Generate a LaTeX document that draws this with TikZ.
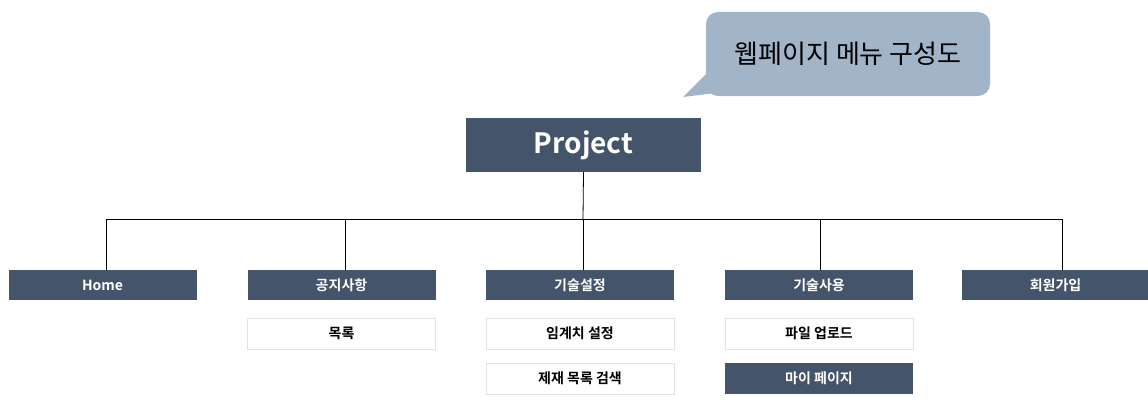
\documentclass[tikz,border=0pt]{standalone}
\usepackage{fontspec}
\setmainfont{Noto Sans CJK KR}
\newfontfamily\kb{Noto Sans CJK KR Bold}
\usetikzlibrary{positioning}
\definecolor{dk}{HTML}{44546A}
\definecolor{cl}{HTML}{A2B4C8}
\definecolor{bd}{HTML}{E2E2E2}
\begin{document}
\begin{tikzpicture}[x=1pt,y=-1pt,
 lvl/.style={fill=dk,text=white,minimum width=188pt,minimum height=30pt,inner sep=0pt,font=\kb\fontsize{14}{14}\selectfont},
 sub/.style={fill=white,draw=bd,line width=0.8pt,minimum width=188pt,minimum height=31pt,inner sep=0pt,font=\kb\fontsize{14}{14}\selectfont},
 ln/.style={line width=0.8pt,black}]
\useasboundingbox (0,0) rectangle (1148,412);
% callout
\fill[cl,rounded corners=12pt] (706,12) rectangle (990,96);
\fill[cl] (712,68) -- (683,97) -- (740,90) -- cycle;
\node (title) at (848,54) {\fontsize{26}{26}\selectfont 웹페이지 메뉴 구성도};
\node[fill=dk,text=white,minimum width=235pt,minimum height=54pt,inner sep=0pt,font=\kb\fontsize{28}{28}\selectfont] (proj) at (583.5,145) {Project};
\node[lvl] (home) at (102.5,285) {Home};
\node[lvl] (notice) at (341.5,285) {공지사항};
\node[lvl] (tset) at (580,285) {기술설정};
\node[lvl] (tuse) at (819,285) {기술사용};
\node[lvl] (join) at (1055.5,285) {회원가입};
\node[sub] (list) at (341.5,333.5) {목록};
\node[sub] (thr) at (580,333.5) {임계치 설정};
\node[sub] (sanc) at (580,378.5) {제재 목록 검색};
\node[sub] (upl) at (819,333.5) {파일 업로드};
\node[lvl,minimum height=31pt] (my) at (819,378.5) {마이 페이지};
\coordinate (bus) at (583,219);
\draw[ln] (proj.south) -- (bus);
\draw[ln] (106,270) |- (1062,219) -- (1062,270);
\draw[ln] (345,219) -- (345,270);
\draw[ln] (583,219) -- (583,270);
\draw[ln] (820,219) -- (820,270);
\end{tikzpicture}
\end{document}
